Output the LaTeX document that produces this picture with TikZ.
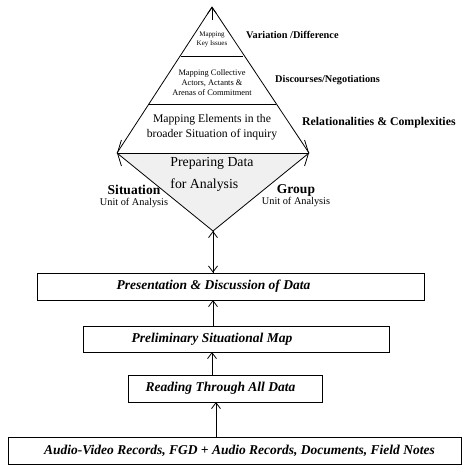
\documentclass[tikz,border=0pt]{standalone}
\usepackage{fontspec}
\setmainfont{Liberation Serif}
\usetikzlibrary{arrows.meta}
\tikzset{
  boxnode/.style={draw, line width=0.8pt, inner sep=0pt},
  boxtext/.style={inner sep=0pt, font=\fontsize{13.5}{15}\selectfont\bfseries\itshape},
  conn/.style={line width=0.8pt},
  tip/.style={-{Straight Barb[length=6pt,width=9pt,line width=0.8pt]}},
  sidelabel/.style={font=\fontsize{10.3}{12}\selectfont\bfseries, anchor=west, inner sep=0pt},
  innertext/.style={align=center, inner sep=0pt}
}
\begin{document}
\begin{tikzpicture}[x=1pt,y=-1pt]
\useasboundingbox[fill=white] (0,0) rectangle (474,474);
% pyramid geometry
\coordinate (apex) at (212,7);
\coordinate (lc) at (117,153);
\coordinate (rc) at (309,153);
\coordinate (bot) at (213,231);
\coordinate (stub) at (212,20);
% inverted triangle fill
\fill[gray!12] (lc) -- (rc) -- (bot) -- cycle;
\draw[conn] (lc) -- (bot) -- (rc);
% pyramid
\draw[conn] (lc) -- (apex) -- (rc);
\draw[conn, {Straight Barb[length=4pt,width=26pt,line width=0.8pt]}-{Straight Barb[length=4pt,width=26pt,line width=0.8pt]}] (lc) -- (rc);
\draw[conn] (181,56) coordinate (l1a) -- (243,56) coordinate (l1b);
\draw[conn] (149,104) coordinate (l2a) -- (276,104) coordinate (l2b);
\draw[conn, tip] (stub) -- (apex);
% inner texts
\node[innertext, font=\fontsize{7}{9}\selectfont] (t1) at (212,39.5) {Mapping\\Key Issues};
\node[innertext, font=\fontsize{8.4}{10}\selectfont] (t2) at (212,83) {Mapping Collective\\Actors, Actants \&\\Arenas of Commitment};
\node[innertext, font=\fontsize{11.7}{15}\selectfont] (t3) at (212,127.5) {Mapping Elements in the\\broader Situation of inquiry};
\node[align=left, inner sep=0pt, font=\fontsize{13.8}{22}\selectfont] (t4) at (212,174) {Preparing Data\\for Analysis};
% side labels
\node[sidelabel] (s1) at (246,35) {Variation /Difference};
\node[sidelabel] (s2) at (275,80) {Discourses/Negotiations};
\node[sidelabel, font=\fontsize{11.8}{13}\selectfont\bfseries] (s3) at (302,123) {Relationalities \& Complexities};
\node[align=center, inner sep=0pt] (sit) at (134,196) {{\fontsize{13.5}{13}\selectfont\bfseries Situation}\\[-1pt]{\fontsize{10.3}{11}\selectfont Unit of Analysis}};
\node[align=center, inner sep=0pt] (grp) at (296,196) {{\fontsize{13.5}{13}\selectfont\bfseries Group}\\[-1pt]{\fontsize{10.3}{11}\selectfont Unit of Analysis}};
% boxes
\node[boxnode, minimum width=387pt, minimum height=27pt] (b1) at (230.5,286.5) {};
\node[boxtext] (b1t) at (213.5,286.5) {Presentation \& Discussion of Data};
\node[boxnode, minimum width=306pt, minimum height=26pt] (b2) at (236,339) {};
\node[boxtext] (b2t) at (212,339) {Preliminary Situational Map};
\node[boxnode, minimum width=194pt, minimum height=27pt] (b3) at (225,388.5) {};
\node[boxtext] (b3t) at (220.5,388.5) {Reading Through All Data};
\node[boxnode, minimum width=453pt, minimum height=27pt] (b4) at (234.5,450.5) {};
\node[boxtext] (b4t) at (239.5,450.5) {Audio-Video Records, FGD + Audio Records, Documents, Field Notes};
% connectors
\draw[conn, tip] (bot |- b1.north) -- (bot);
\draw[conn, tip] (bot) -- (bot |- b1.north);
\draw[conn, tip] (213,326) -- (213,300);
\draw[conn, tip] (212,375) -- (212,352);
\draw[conn, tip] (216,437) -- (216,402);
\end{tikzpicture}
\end{document}
